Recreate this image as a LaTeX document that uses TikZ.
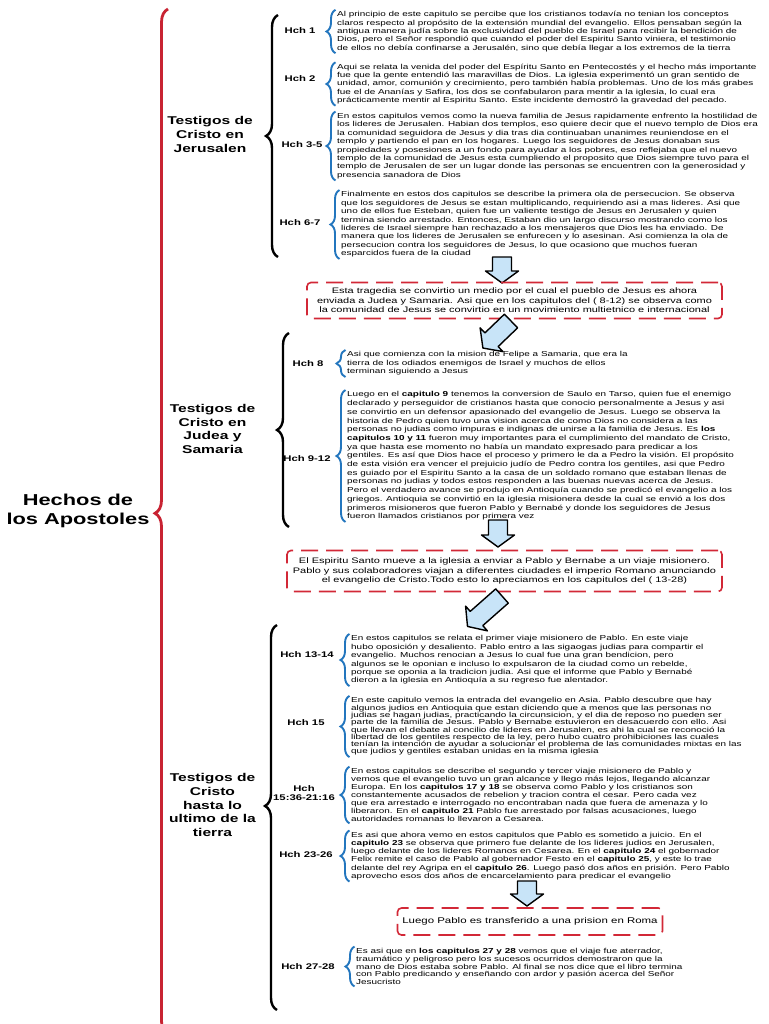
\documentclass[tikz,border=0pt]{standalone}
\usepackage{fontspec}
\setmainfont{Liberation Sans}[FakeStretch=1.38]
\usetikzlibrary{decorations.pathreplacing}
\definecolor{bracered}{RGB}{200,35,50}
\definecolor{braceblue}{RGB}{35,118,190}
\definecolor{arrowfill}{RGB}{200,228,248}
\definecolor{boxred}{RGB}{210,40,55}
\begin{document}
\begin{tikzpicture}[x=1pt,y=1pt,
  body/.style={font=\fontsize{7.2}{#1}\selectfont, align=left, anchor=west, inner xsep=0pt, inner ysep=1.5pt},
  hch/.style={font=\fontsize{8.2}{9}\selectfont\bfseries, align=center, inner sep=0pt},
  sect/.style={font=\fontsize{11.3}{13.8}\selectfont\bfseries, align=center, inner sep=0pt},
  dbox/.style={draw=boxred, line width=1.6pt, dash pattern=on 17pt off 8pt, rounded corners=4pt, align=center, font=\fontsize{7.95}{9.4}\selectfont, inner sep=0pt},
  bluebrace/.style={draw=braceblue, line width=1.9pt, decorate, decoration={brace, amplitude=9pt}},
  blackbrace/.style={draw=black, line width=2.4pt, decorate, decoration={brace, amplitude=12pt, aspect=#1}},
  blackbrace/.default=0.5,
  redbrace/.style={draw=bracered, line width=2.8pt, decorate, decoration={brace, amplitude=13pt, aspect=#1}},
  blockarrow/.pic={\draw[line width=1.4pt, fill=arrowfill, line join=round] (0,9.5) -- ({#1-12},9.5) -- ({#1-12},16.5) -- (#1,0) -- ({#1-12},-16.5) -- ({#1-12},-9.5) -- (0,-9.5) -- cycle;}
]
\fill[white] (0,0) rectangle (768,-1024);
\useasboundingbox (0,0) rectangle (768,-1024);

% main title and red brace
\node[font=\fontsize{15.8}{18.5}\selectfont\bfseries, align=center, inner sep=0pt] (main) at (78,-511) {Hechos de\\los Apostoles};
\coordinate (rb1) at (168,-1034);
\coordinate (rb2) at (168,-9);
\draw[redbrace=0.508] (rb1) -- (rb2);

% ===== Section 1 =====
\node[sect] (s1) at (210,-134.5) {Testigos de\\Cristo en\\Jerusalen};
\coordinate (k1b) at (278,-257);
\coordinate (k1t) at (278,-15);
\draw[blackbrace] (k1b) -- (k1t);

\node[hch] (h1) at (300,-30.7) {Hch 1};
\node[hch] (h2) at (300,-79) {Hch 2};
\node[hch] (h3) at (302,-145) {Hch 3-5};
\node[hch] (h4) at (300,-222.7) {Hch 6-7};

\node[body=8.3] (t1) at (337,-31.5) {Al principio de este capitulo se percibe que los cristianos todavía no tenian los conceptos\\claros respecto al propósito de la extensión mundial del evangelio. Ellos pensaban según la\\antigua manera judía sobre la exclusividad del pueblo de Israel para recibir la bendición de\\Dios, pero el Señor respondió que cuando el poder del Espiritu Santo viniera, el testimonio\\de ellos no debía confinarse a Jerusalén, sino que debía llegar a los extremos de la tierra};
\node[body=8.3] (t2) at (337,-84) {Aqui se relata la venida del poder del Espíritu Santo en Pentecostés y el hecho más importante\\fue que la gente entendió las maravillas de Dios. La iglesia experimentó un gran sentido de\\unidad, amor, comunión y crecimiento, pero también había problemas. Uno de los más grabes\\fue el de Ananías y Safira, los dos se confabularon para mentir a la iglesia, lo cual era\\prácticamente mentir al Espiritu Santo. Este incidente demostró la gravedad del pecado.};
\node[body=8.4] (t3) at (337,-146) {En estos capitulos vemos como la nueva familia de Jesus rapidamente enfrento la hostilidad de\\los lideres de Jerusalen. Habian dos templos, eso quiere decir que el nuevo templo de Dios  era\\la comunidad seguidora de Jesus y dia tras dia continuaban unanimes reuniendose en el\\templo y partiendo el pan en los hogares. Luego los seguidores de Jesus  donaban sus\\propiedades y posesiones a un fondo para ayudar a los pobres, eso reflejaba que el nuevo\\templo de la comunidad de Jesus esta cumpliendo el proposito que Dios siempre tuvo  para el\\templo de Jerusalen de ser un lugar donde las personas se encuentren con la generosidad y\\presencia sanadora de Dios};
\node[body=8.4] (t4) at (341,-224.5) {Finalmente en estos dos capitulos se describe la primera ola de persecucion. Se observa\\que los seguidores de Jesus se estan multiplicando, requiriendo asi a mas lideres. Asi que\\uno de ellos fue Esteban, quien fue un valiente testigo de Jesus en Jerusalen y quien\\termina siendo arrestado. Entonces, Estaban dio un largo discurso mostrando como los\\lideres de Israel siempre han rechazado a los mensajeros que Dios les ha enviado. De\\manera que los lideres de Jerusalen se enfurecen y lo asesinan. Asi comienza la ola  de\\persecucion contra los seguidores de Jesus, lo que ocasiono que muchos fueran\\esparcidos fuera de la ciudad};
\foreach \t in {t1,t2,t3,t4}
  \draw[bluebrace] ([xshift=-1.5pt]\t.south west) -- ([xshift=-1.5pt]\t.north west);

\pic[rotate=-90] (a1) at (502,-257) {blockarrow=26};
\node[dbox, minimum width=415pt, minimum height=36pt] (b1) at (514.5,-300.5) {Esta tragedia se convirtio un medio por el cual el pueblo de Jesus es ahora\\enviada a Judea y Samaria. Asi que en los capitulos del ( 8-12) se observa como\\la comunidad de Jesus se convirtio en un movimiento multietnico e internacional};
\pic[rotate=223.9] (a2) at (511,-321) {blockarrow=39};

% ===== Section 2 =====
\node[sect] (s2) at (212.5,-429) {Testigos de\\Cristo en\\Judea y\\Samaria};
\coordinate (k2b) at (289,-527);
\coordinate (k2t) at (289,-333);
\draw[blackbrace] (k2b) -- (k2t);

\node[hch] (h5) at (308,-364) {Hch 8};
\node[hch] (h6) at (307,-459) {Hch 9-12};

\node[body=8.5] (t5) at (347,-363.5) {Asi que comienza con la mision de Felipe a Samaria, que era la\\tierra de los odiados enemigos de Israel y muchos de ellos\\terminan siguiendo a Jesus};
\node[body=8.7] (t6) at (347,-456) {Luego en el \textbf{capitulo 9} tenemos la conversion de Saulo en Tarso, quien fue el enemigo\\declarado y perseguidor de cristianos hasta que conocio personalmente a Jesus y asi\\se convirtio en un defensor apasionado del evangelio de Jesus. Luego se observa la\\historia de Pedro quien tuvo una vision acerca de como Dios no considera a las\\personas no judias como impuras e indignas de unirse a la familia de Jesus. Es \textbf{los}\\\textbf{capitulos 10 y 11} fueron muy importantes para el cumplimiento del mandato de Cristo,\\ya que hasta ese momento no había un mandato expresado para predicar a los\\gentiles. Es así que Dios hace el proceso y primero le da a Pedro la visión. El propósito\\de esta visión era vencer el prejuicio judío de Pedro contra los gentiles, asi que Pedro\\es guiado por el Espiritu Santo a la casa de un soldado romano que estaban llenas de\\personas no judias y todos estos responden a las buenas nuevas acerca de Jesus.\\Pero el verdadero avance se produjo en Antioquía cuando se predicó el evangelio a los\\griegos. Antioquia se convirtió en la iglesia misionera desde la cual se envió a los dos\\primeros misioneros que fueron Pablo y Bernabé y donde los seguidores de Jesus\\fueron llamados cristianos por primera vez};
\foreach \t in {t5,t6}
  \draw[bluebrace] ([xshift=-1.5pt]\t.south west) -- ([xshift=-1.5pt]\t.north west);

\pic[rotate=-90] (a3) at (498,-520) {blockarrow=27};
\node[dbox, minimum width=435pt, minimum height=41pt] (b2) at (504.5,-571) {El Espiritu Santo mueve a la iglesia a enviar a Pablo y Bernabe a un viaje misionero.\\Pablo y sus colaboradores viajan a diferentes ciudades el imperio Romano anunciando\\el evangelio de Cristo.Todo esto  lo apreciamos en los capitulos del ( 13-28)};
\pic[rotate=221.4] (a4) at (502,-596) {blockarrow=46};

% ===== Section 3 =====
\node[sect] (s3) at (212.5,-805) {Testigos de\\Cristo\\hasta lo\\ultimo de la\\tierra};
\coordinate (k3b) at (277,-1010);
\coordinate (k3t) at (277,-625);
\draw[blackbrace=0.53] (k3b) -- (k3t);

\node[hch] (h7) at (307,-655) {Hch 13-14};
\node[hch] (h8) at (306,-723) {Hch 15};
\node[hch] (h9) at (304,-793) {Hch\\15:36-21:16};
\node[hch] (h10) at (306,-855) {Hch 23-26};
\node[hch] (h11) at (308,-967) {Hch 27-28};

\node[body=8.4] (t7) at (351,-660) {En estos capitulos se relata el primer viaje misionero de Pablo. En este viaje\\hubo oposición y desaliento. Pablo entro a las sigaogas judias para compartir el\\evangelio. Muchos renocian a Jesus lo cual fue una gran bendicion, pero\\algunos se le oponian e incluso lo expulsaron de la ciudad como un rebelde,\\porque se oponia a la tradicion judia. Asi que el informe que Pablo y Bernabé\\dieron a la iglesia en Antioquía a su regreso fue alentador.};
\node[body=7.3] (t8) at (351,-726.5) {En este capitulo vemos la entrada del evangelio en Asia. Pablo descubre que hay\\algunos judios en Antioquia que  estan diciendo que a menos que las personas no\\judias se hagan judias, practicando la circunsicion, y el dia de reposo no pueden ser\\parte de la familia de Jesus. Pablo y Bernabe estuvieron en desacuerdo con ello. Asi\\que llevan el debate al concilio de lideres en Jerusalen, es ahi  la cual se reconoció la\\libertad de los gentiles respecto de la ley, pero hubo cuatro prohibiciones las cuales\\tenían la intención de ayudar a solucionar el problema de las comunidades mixtas en las\\que judios y gentiles estaban unidas en la misma iglesia};
\node[body=8.0] (t9) at (351,-795) {En estos capitulos se describe el segundo y tercer viaje misionero de Pablo y\\vemos que el evangelio tuvo un gran alcance y llego más lejos, llegando alcanzar\\Europa. En los \textbf{capitulos 17 y 18} se observa como Pablo y los cristianos son\\constantemente acusados de rebelion y tracion contra el cesar. Pero cada vez\\que era arrestado e interrogado no encontraban nada que fuera de amenaza y lo\\liberaron. En el \textbf{capitulo 21} Pablo fue arrestado por falsas acusaciones, luego\\autoridades romanas lo llevaron a Cesarea.};
\node[body=8.2] (t10) at (351,-856) {Es asi que ahora vemo en estos capitulos que Pablo es sometido a juicio. En el\\\textbf{capitulo 23} se observa que primero fue delante de los lideres judios en Jerusalen,\\luego delante de los lideres Romanos en Cesarea. En el \textbf{capitulo 24} el gobernador\\Felix remite el caso de Pablo al gobernador Festo en el \textbf{capitulo 25}, y este lo trae\\delante del rey Agripa en el \textbf{capitulo 26}. Luego pasó dos años en prisión. Pero Pablo\\aprovecho esos dos años de encarcelamiento para predicar el evangelio};
\node[body=7.8] (t11) at (356,-966.5) {Es asi que en \textbf{los capitulos 27 y 28}  vemos que el viaje fue aterrador,\\traumático y peligroso pero los sucesos ocurridos demostraron que la\\mano de Dios estaba sobre Pablo. Al final se nos dice que el libro termina\\con Pablo predicando y enseñando con ardor y pasión acerca del Señor\\Jesucristo};
\foreach \t in {t7,t8,t9,t10,t11}
  \draw[bluebrace] ([xshift=-1.5pt]\t.south west) -- ([xshift=-1.5pt]\t.north west);

\pic[rotate=-90] (a5) at (527,-881) {blockarrow=25};
\node[dbox, minimum width=265pt, minimum height=27pt] (b3) at (530,-921.5) {\fontsize{8.3}{9.4}\selectfont Luego Pablo es transferido a una prision en Roma};
\end{tikzpicture}
\end{document}
